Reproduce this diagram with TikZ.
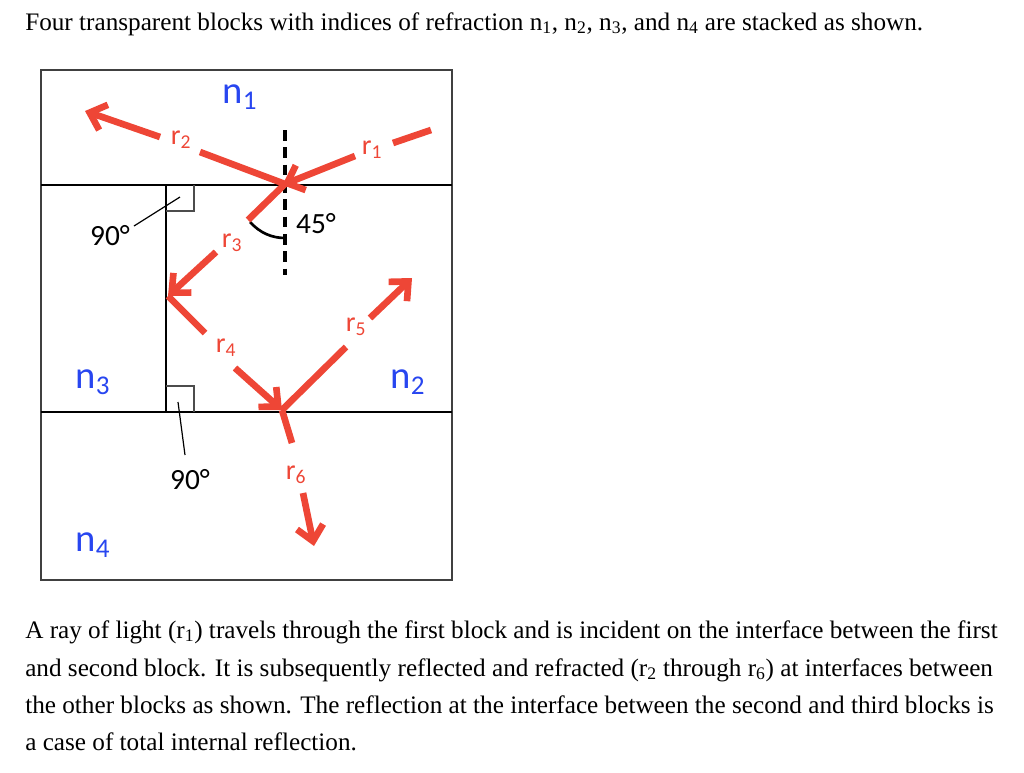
\documentclass[tikz,border=0pt]{standalone}
\usepackage{fontspec}
\setmainfont{Liberation Serif}
\newfontfamily\lab{Carlito}
\usetikzlibrary{arrows.meta}
\definecolor{ray}{RGB}{238,70,54}
\definecolor{nblue}{RGB}{40,70,240}
\tikzset{
 x=0.75pt,y=-0.75pt,
 raystyle/.style={draw=ray,line width=5pt},
 rayarrow/.style={raystyle,-{Straight Barb[length=11pt,width=20pt,line width=5pt]}},
 rlab/.style={text=ray,font=\lab\fontsize{21}{21}\selectfont,inner sep=0pt},
 nlab/.style={text=nblue,font=\lab\fontsize{29}{29}\selectfont,inner sep=0pt},
 blab/.style={font=\lab\fontsize{22}{22}\selectfont,inner sep=0pt},
 para/.style={anchor=base west,inner sep=0pt,font=\fontsize{18.9}{18.9}\selectfont},
 thin/.style={draw=black,line width=0.9pt}
}
\begin{document}
\begin{tikzpicture}
\useasboundingbox (0,0) rectangle (1024,772);
\node[para] (t0) at (25,30) {Four transparent blocks with indices of refraction n\textsubscript{1}, n\textsubscript{2}, n\textsubscript{3}, and n\textsubscript{4} are stacked as shown.};
\node[para] (t1) at (25,638) {A ray of light (r\textsubscript{1}) travels through the first block and is incident on the interface between the first};
\node[para] (t2) at (25,676) {and second block. It is subsequently reflected and refracted (r\textsubscript{2} through r\textsubscript{6}) at interfaces between};
\node[para] (t3) at (25,713) {the other blocks as shown. The reflection at the interface between the second and third blocks is};
\node[para] (t4) at (25,750) {a case of total internal reflection.};
% frame
\draw[draw=black!75,line width=1.5pt] (41,70) rectangle (452,580);
\draw[thin] (41,185) -- (452,185);
\draw[thin] (41,412) -- (452,412);
\draw[thin] (166,185) -- (166,412);
\draw[draw=black!70,line width=0.8pt] (166,211) -| (194,185);
\draw[draw=black!70,line width=0.8pt] (166,386) -| (194,412);
\node[blab] (a1) at (110,236) {90°};
\node[blab] (a2) at (190,480) {90°};
\coordinate (a1e) at (180,197);
\coordinate (a2e) at (178,402);
\draw[thin] (134,226) -- (a1e);
\draw[thin] (a2e) -- (185,455);
% normal
\draw[draw=black,line width=3pt,dash pattern=on 8pt off 5pt] (285,130) -- (285,275);
\node[blab] (a45) at (316,224) {45°};
\draw[draw=black,line width=2pt] (250,222) .. controls (260,233) and (272,238) .. (285,238);
% points
\coordinate (P) at (285,184);
\coordinate (Q) at (168,296);
\coordinate (R) at (282,410);
% r1
\draw[raystyle] (431,130) -- (393,143);
\draw[rayarrow,shorten >=-2pt] (355,156) -- (P);
\node[rlab] (r1) at (372,150) {r\textsubscript{1}};
% r2
\draw[raystyle] (P) -- (200,152);
\draw[rayarrow] (160,137) -- (85,111);
\node[rlab] (r2) at (181,140) {r\textsubscript{2}};
% r3
\draw[raystyle] (P) -- (248,220);
\draw[rayarrow] (216,252) -- (Q);
\node[rlab] (r3) at (232,243) {r\textsubscript{3}};
% r4
\draw[raystyle] (Q) -- (205,333);
\draw[rayarrow] (235,368) -- (R);
\node[rlab] (r4) at (226,348) {r\textsubscript{4}};
% r5
\draw[raystyle] (R) -- (346,347);
\draw[rayarrow] (370,318) -- (412,278);
\node[rlab] (r5) at (356,327) {r\textsubscript{5}};
% r6
\draw[raystyle] (R) -- (292,443);
\draw[rayarrow] (303,493) -- (314,546);
\node[rlab] (r6) at (296,475) {r\textsubscript{6}};
% n labels
\node[nlab] (n1) at (240,97) {n\textsubscript{1}};
\node[nlab] (n2) at (408,382) {n\textsubscript{2}};
\node[nlab] (n3) at (93,382) {n\textsubscript{3}};
\node[nlab] (n4) at (93,545) {n\textsubscript{4}};
\end{tikzpicture}
\end{document}
